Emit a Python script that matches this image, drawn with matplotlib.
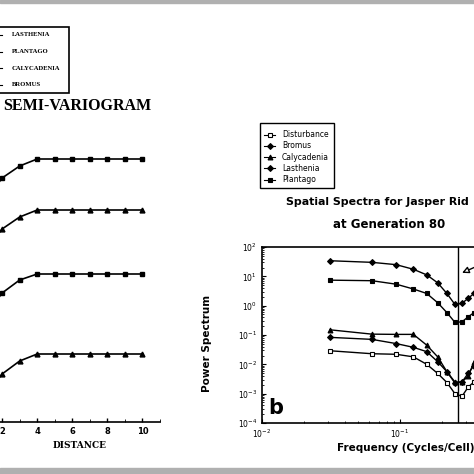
import matplotlib
matplotlib.use("Agg")
import matplotlib.pyplot as plt
from matplotlib.patches import Rectangle

# ---- Semi-variogram data (arbitrary units) ----
dist = [1, 2, 3, 4, 5, 6, 7, 8, 9, 10]
sv_plantago = [22.0, 24.4, 25.6, 26.3, 26.3, 26.3, 26.3, 26.3, 26.3, 26.3]
sv_calycadenia = [17.0, 19.3, 20.5, 21.2, 21.2, 21.2, 21.2, 21.2, 21.2, 21.2]
sv_lasthenia = [10.5, 12.9, 14.2, 14.8, 14.8, 14.8, 14.8, 14.8, 14.8, 14.8]
sv_bromus = [2.5, 4.8, 6.1, 6.8, 6.8, 6.8, 6.8, 6.8, 6.8, 6.8]
sv_legend = ["LASTHENIA", "PLANTAGO", "CALYCADENIA", "BROMUS"]

# ---- Spectra data ----
freq = [1/32, 2/32, 3/32, 4/32, 5/32, 6/32, 7/32, 8/32, 9/32, 10/32, 11/32]
sp_bromus = [34, 30, 25, 17.4, 11.2, 6.0, 2.6, 1.1, 1.2, 1.8, 2.6]
sp_plantago = [7.4, 7.1, 5.4, 3.7, 2.6, 1.26, 0.58, 0.27, 0.28, 0.42, 0.58]
sp_calycadenia = [0.15, 0.107, 0.105, 0.105, 0.045, 0.018, 0.0056, 0.0025, 0.0025, 0.004, 0.012]
sp_lasthenia = [0.083, 0.071, 0.051, 0.038, 0.027, 0.0123, 0.0056, 0.0023, 0.0025, 0.005, 0.009]
sp_disturbance = [0.029, 0.023, 0.022, 0.018, 0.01, 0.0049, 0.0024, 0.001, 0.00081, 0.0017, 0.0025]

fig = plt.figure(figsize=(4.74, 4.74), dpi=100)
W = H = 474.0

def fx(p): return p / W
def fy(p): return 1 - p / H

# ---------- left panel ----------
axL = fig.add_axes([0, fy(422), fx(160), fy(130) - fy(422)])
for ys, m in [(sv_plantago, 's'), (sv_calycadenia, '^'), (sv_lasthenia, 's'), (sv_bromus, '^')]:
    axL.plot(dist, ys, color='black', lw=1.2, marker=m, ms=3.5, mfc='black')
axL.set_xlim(1.88, 11)
axL.set_ylim(0, 29.2)
for s in ['left', 'top', 'right']:
    axL.spines[s].set_visible(False)
axL.spines['bottom'].set_linewidth(1.2)
axL.set_yticks([])
axL.set_xticks([2, 4, 6, 8, 10])
axL.set_xticks([3, 5, 7, 9, 11], minor=True)
axL.tick_params(axis='x', labelsize=6, length=3, width=1, direction='in')
axL.tick_params(axis='x', which='minor', length=2, direction='in')
for lab in axL.get_xticklabels():
    lab.set_fontweight('bold')
fig.text(fx(80), fy(446), "DISTANCE", ha='center', va='center', fontsize=6.5,
         family='DejaVu Serif', fontweight='bold')
fig.text(fx(77), fy(106), "SEMI-VARIOGRAM", ha='center', va='center', fontsize=11.5,
         family='Liberation Serif', fontweight='bold')
fig.patches.append(Rectangle((fx(-2), fy(93)), fx(71), fy(27) - fy(93), transform=fig.transFigure,
                             fill=False, lw=1.2, ec='black'))
for i, t in enumerate(sv_legend):
    yy = 35 + i * 16.5
    fig.text(fx(12), fy(yy), t, va='center', fontsize=4.8, family='Liberation Serif', fontweight='bold')
    fig.lines.append(plt.Line2D([fx(0), fx(2)], [fy(yy), fy(yy)], transform=fig.transFigure, color='black', lw=0.8))

# ---------- right panel ----------
axR = fig.add_axes([fx(262), fy(423), fx(474) - fx(262), fy(247) - fy(423)])
series = [(sp_bromus, 'D', 'black'), (sp_plantago, 's', 'black'), (sp_calycadenia, '^', 'black'),
          (sp_lasthenia, 'D', 'black'), (sp_disturbance, 's', 'white')]
for ys, m, fc in series:
    ms = 3.0 if m == 'D' else 3.5
    axR.plot(freq, ys, color='black', lw=1.0, marker=m, ms=ms, mfc=fc, mec='black', mew=0.8)
axR.set_xscale('log')
axR.set_yscale('log')
axR.set_xlim(0.01, 10 ** (-2 + 212 / 138))
axR.set_ylim(1e-4, 1e2)
axR.axvline(0.263, color='black', lw=1.0)
axR.spines['right'].set_visible(False)
for s in ['left', 'top', 'bottom']:
    axR.spines[s].set_linewidth(1.2)
axR.tick_params(axis='both', labelsize=5.5, direction='in', length=3)
axR.tick_params(axis='both', which='minor', direction='in', length=1.5)
axR.annotate("", xy=(0.27, 12), xytext=(0.36, 22),
             arrowprops=dict(arrowstyle='-|>', fc='white', ec='black', lw=1))
axR.text(0.03, 0.03, "b", transform=axR.transAxes, fontsize=15, fontweight='bold', va='bottom')
fig.text(fx(207), fy(343), "Power Spectrum", rotation=90, ha='center', va='center',
         fontsize=7.5, fontweight='bold')
fig.text(fx(406), fy(448), "Frequency (Cycles/Cell)", ha='center', va='center',
         fontsize=7.5, fontweight='bold')
fig.text(fx(286), fy(202), "Spatial Spectra for Jasper Rid", ha='left', va='center',
         fontsize=7.9, fontweight='bold')
fig.text(fx(389), fy(225), "at Generation 80", ha='center', va='center',
         fontsize=8.5, fontweight='bold')

fig.patches.append(Rectangle((fx(260), fy(188)), fx(74), fy(123) - fy(188), transform=fig.transFigure,
                             fill=False, lw=1.0, ec='black'))
leg_names = ["Disturbance", "Bromus", "Calycadenia", "Lasthenia", "Plantago"]
leg_style = [('s', 'white'), ('D', 'black'), ('^', 'black'), ('D', 'black'), ('s', 'black')]
for i, (t, (m, fc)) in enumerate(zip(leg_names, leg_style)):
    yy = 134.5 + i * 11.3
    fig.lines.append(plt.Line2D([fx(264), fx(275)], [fy(yy), fy(yy)], transform=fig.transFigure,
                                color='black', lw=0.8))
    fig.lines.append(plt.Line2D([fx(269.5)], [fy(yy)], transform=fig.transFigure, marker=m,
                                ms=3 if m == 'D' else 3.5, mfc=fc, mec='black', mew=0.8, color='black'))
    fig.text(fx(282), fy(yy), t, va='center', fontsize=5.5)

# grey frame lines
fig.patches.append(Rectangle((0, fy(3)), 1, fx(3), transform=fig.transFigure, color='#b0b0b0'))
fig.patches.append(Rectangle((0, 0), 1, fx(6), transform=fig.transFigure, color='#b0b0b0'))

fig.savefig("out.png", dpi=100)
